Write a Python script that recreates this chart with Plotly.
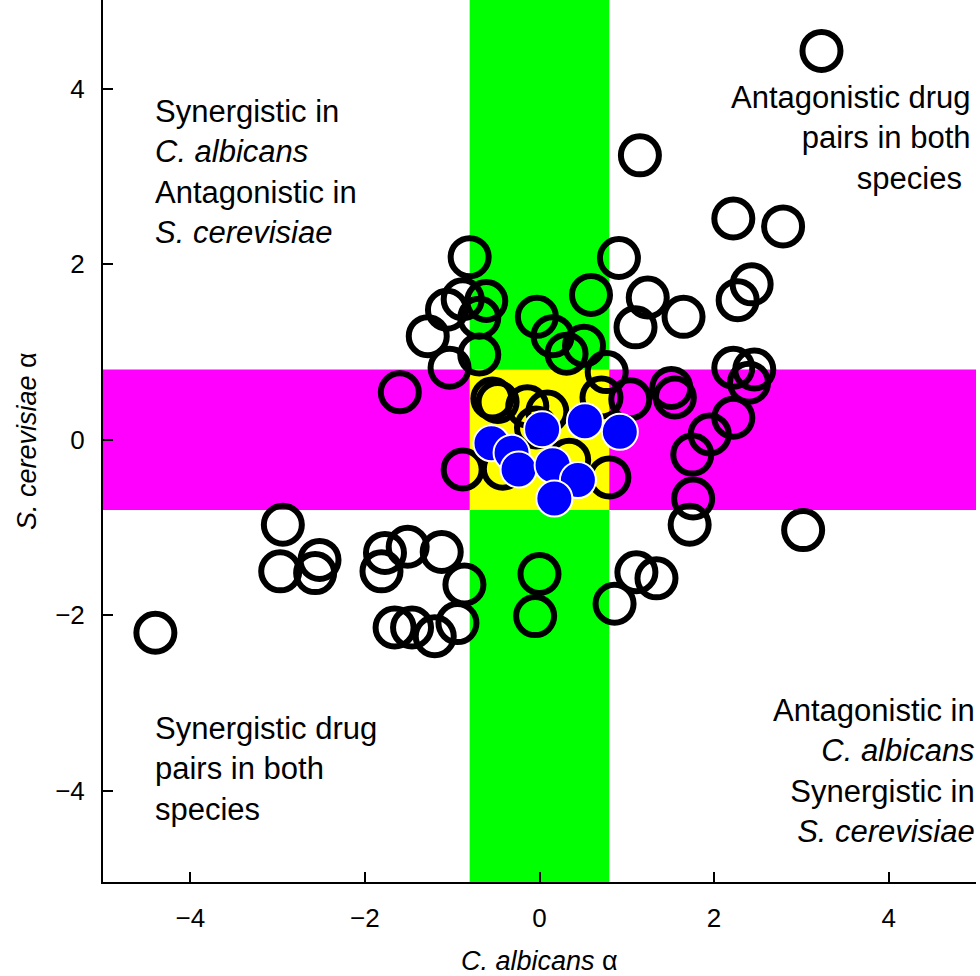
import plotly.graph_objects as go

# Open (black ring) drug pairs: C. albicans alpha (x), S. cerevisiae alpha (y)
open_x = [3.23, 1.15, 2.22, 2.79, 0.91, -0.80, 0.59, 1.24, 1.10, 1.65, 2.43, 2.27,
          -0.03, 0.15, 0.51, 0.31, 0.77,
          -0.61, -0.88, -1.06, -0.69, -1.28, -0.69, -1.03, -1.60,
          -0.54, -0.48, -0.14, 0.09, 0.71, 1.04, -0.04, -0.88, -0.42, 0.34, 0.80,
          1.51, 1.55, 2.22, 2.46, 2.40, 2.22, 1.95, 1.75, 1.76, 1.72, 3.02,
          1.11, 1.34, 0.86, 0.00, -0.05,
          -2.94, -2.97, -2.52, -2.57, -1.77, -1.81, -1.51, -1.12, -0.86,
          -4.40, -1.66, -1.46, -1.20, -0.94]
open_y = [4.43, 3.24, 2.52, 2.43, 2.07, 2.08, 1.65, 1.62, 1.28, 1.40, 1.77, 1.59,
          1.40, 1.18, 1.07, 0.98, 0.77,
          1.58, 1.60, 1.48, 1.39, 1.18, 0.97, 0.82, 0.54,
          0.47, 0.43, 0.38, 0.32, 0.48, 0.46, 0.14, -0.34, -0.33, -0.23, -0.43,
          0.59, 0.48, 0.82, 0.80, 0.65, 0.25, 0.06, -0.17, -0.67, -0.97, -1.03,
          -1.51, -1.58, -1.87, -1.53, -2.01,
          -0.97, -1.50, -1.37, -1.52, -1.29, -1.50, -1.22, -1.28, -1.65,
          -2.20, -2.14, -2.14, -2.24, -2.09]

# Blue filled drug pairs
blue_x = [-0.55, -0.32, -0.24, 0.03, 0.52, 0.92, 0.15, 0.44, 0.17]
blue_y = [-0.04, -0.15, -0.34, 0.12, 0.21, 0.09, -0.29, -0.46, -0.67]

# Neutral band half-width
band = 0.8

x_ticks = [-4, -2, 0, 2, 4]
y_ticks = [-4, -2, 0, 2, 4]
x_range = [-5, 5]
y_range = [-5.04, 5.01]

FONT = "Liberation Sans"

fig = go.Figure()

fig.add_trace(go.Scatter(
    x=open_x, y=open_y, mode="markers",
    marker=dict(symbol="circle", size=38, color="rgba(0,0,0,0)",
                line=dict(color="black", width=6)),
    hoverinfo="x+y", showlegend=False))

fig.add_trace(go.Scatter(
    x=blue_x, y=blue_y, mode="markers",
    marker=dict(symbol="circle", size=36, color="#0000FF",
                line=dict(color="white", width=2)),
    hoverinfo="x+y", showlegend=False))

shapes = [
    dict(type="rect", xref="x", yref="y", x0=-band, x1=band, y0=y_range[0], y1=y_range[1],
         fillcolor="#00FF00", line=dict(width=0), layer="below"),
    dict(type="rect", xref="x", yref="y", x0=x_range[0], x1=x_range[1], y0=-band, y1=band,
         fillcolor="#FF00FF", line=dict(width=0), layer="below"),
    dict(type="rect", xref="x", yref="y", x0=-band, x1=band, y0=-band, y1=band,
         fillcolor="#FFFF00", line=dict(width=0), layer="below"),
]

ann_font = dict(family=FONT, size=31, color="black")
annotations = [
    dict(x=-4.42, y=3.05, xref="x", yref="y", xanchor="left", yanchor="middle", align="left",
         text="Synergistic in<br><i>C. albicans</i><br>Antagonistic in<br><i>S. cerevisiae</i>",
         showarrow=False, font=ann_font, borderpad=0),
    dict(x=4.95, y=3.44, xref="x", yref="y", xanchor="right", yanchor="middle", align="right",
         text="Antagonistic drug<br>pairs in both<br>species\u00a0",
         showarrow=False, font=ann_font, borderpad=0),
    dict(x=-4.42, y=-3.75, xref="x", yref="y", xanchor="left", yanchor="middle", align="left",
         text="Synergistic drug<br>pairs in both<br>species",
         showarrow=False, font=ann_font, borderpad=0),
    dict(x=4.995, y=-3.78, xref="x", yref="y", xanchor="right", yanchor="middle", align="right",
         text="Antagonistic in<br><i>C. albicans</i><br>Synergistic in<br><i>S. cerevisiae</i>",
         showarrow=False, font=ann_font, borderpad=0),
    # axis titles
    dict(x=0.5, y=0, xref="paper", yref="paper", xanchor="center", yanchor="middle",
         yshift=-79, text="<i>C. albicans</i> α", showarrow=False,
         font=dict(family=FONT, size=27, color="black")),
    dict(x=0, y=0.5, xref="paper", yref="paper", xanchor="center", yanchor="middle",
         xshift=-76, textangle=-90, text="<i>S. cerevisiae</i> α", showarrow=False,
         font=dict(family=FONT, size=27, color="black")),
]

axis_common = dict(showgrid=False, zeroline=False, showline=True, linecolor="black",
                   linewidth=2, ticks="inside", ticklen=10, tickwidth=2, tickcolor="black",
                   tickfont=dict(family=FONT, size=26, color="black"), mirror=False,
                   automargin=False)

fig.update_layout(
    width=980, height=976,
    margin=dict(l=103, r=4, t=0, b=94),
    paper_bgcolor="white", plot_bgcolor="white",
    shapes=shapes, annotations=annotations,
    xaxis=dict(range=x_range, tickvals=x_ticks, ticklabelstandoff=12, **axis_common),
    yaxis=dict(range=y_range, tickvals=y_ticks, ticklabelstandoff=11, **axis_common),
)

fig.write_html(
    "out.html",
    config={"displayModeBar": False},
    post_script="document.body.style.margin='0';document.body.style.overflow='hidden';",
)
